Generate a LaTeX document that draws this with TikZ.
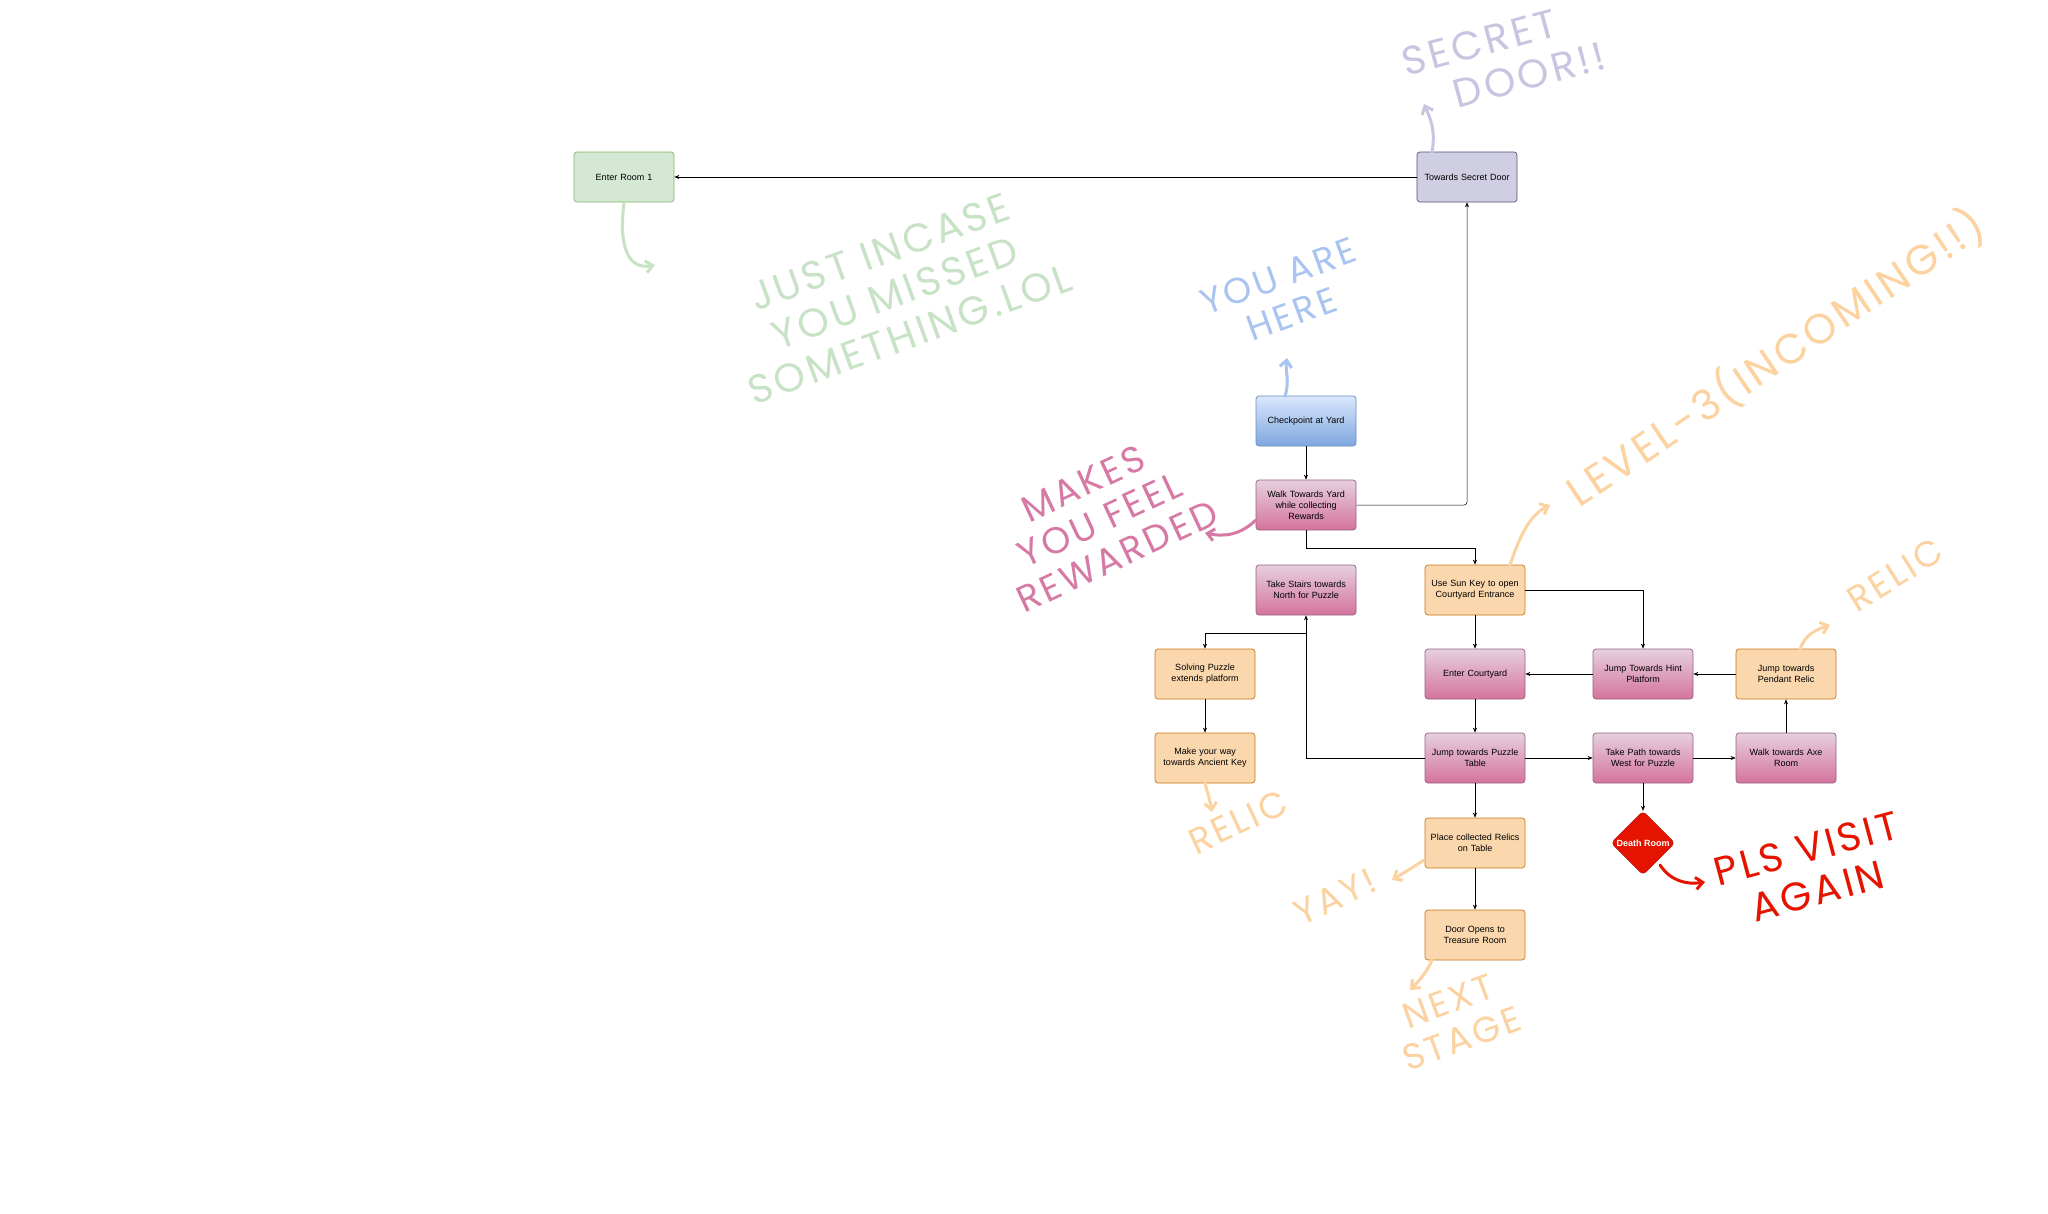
\documentclass[tikz,border=0pt]{standalone}
\usepackage{fontspec}
\setmainfont{Liberation Sans}
\newfontfamily\hand[LetterSpace=8]{Poppins}
\usetikzlibrary{shapes.geometric,arrows.meta}
\begin{document}
\begin{tikzpicture}[x=1pt,y=-1pt,
  box/.style={rounded corners=3pt,minimum width=100pt,minimum height=50pt,text width=100pt,align=center,inner xsep=0pt,font=\fontsize{9}{11}\selectfont,line width=0.7pt},
  gbox/.style={box,fill={rgb,255:red,213;green,232;blue,212},draw={rgb,255:red,130;green,179;blue,102}},
  pbox/.style={box,fill={rgb,255:red,208;green,206;blue,226},draw={rgb,255:red,86;green,81;blue,126}},
  bbox/.style={box,top color={rgb,255:red,218;green,232;blue,252},bottom color={rgb,255:red,126;green,166;blue,224},draw={rgb,255:red,108;green,142;blue,191}},
  kbox/.style={box,top color={rgb,255:red,230;green,208;blue,222},bottom color={rgb,255:red,213;green,115;blue,157},draw={rgb,255:red,150;green,97;blue,133}},
  obox/.style={box,fill={rgb,255:red,250;green,215;blue,172},draw={rgb,255:red,200;green,120;blue,30}},
  arr/.style={-{Stealth[length=5pt,width=4pt]},line width=0.5pt},
  note/.style={font=\hand\fontsize{36}{40}\selectfont,align=center},
  narr/.style={line width=3pt,line cap=round,-{Straight Barb[length=7pt,width=12pt]}}]
\useasboundingbox (0,0) rectangle (2048,1213);
\fill[white] (0,0) rectangle (2048,1213);
\definecolor{cG}{RGB}{200,226,198}
\definecolor{cP}{RGB}{200,197,224}
\definecolor{cB}{RGB}{169,196,240}
\definecolor{cK}{RGB}{214,122,165}
\definecolor{cO}{RGB}{251,210,160}
\definecolor{cR}{RGB}{229,20,0}

\node[gbox] (room) at (624,177) {Enter Room 1};
\node[pbox] (secret) at (1467,177) {Towards Secret Door};
\node[bbox] (check) at (1306,421) {Checkpoint at Yard};
\node[kbox] (walk) at (1306,505) {Walk Towards Yard\\while collecting\\Rewards};
\node[kbox] (stairs) at (1306,590) {Take Stairs towards\\North for Puzzle};
\node[obox] (sun) at (1475,590) {Use Sun Key to open\\Courtyard Entrance};
\node[obox] (solve) at (1205,674) {Solving Puzzle\\extends platform};
\node[kbox] (court) at (1475,674) {Enter Courtyard};
\node[kbox] (hint) at (1643,674) {Jump Towards Hint\\Platform};
\node[obox] (pend) at (1786,674) {Jump towards\\Pendant Relic};
\node[obox] (make) at (1205,758) {Make your way\\towards Ancient Key};
\node[kbox] (jump) at (1475,758) {Jump towards Puzzle\\Table};
\node[kbox] (path) at (1643,758) {Take Path towards\\West for Puzzle};
\node[kbox] (axe) at (1786,758) {Walk towards Axe\\Room};
\node[obox] (place) at (1475,843) {Place collected Relics\\on Table};
\node[obox] (door) at (1475,935) {Door Opens to\\Treasure Room};
\node[diamond,fill=cR,draw={rgb,255:red,178;green,0;blue,0},rounded corners=4pt,minimum width=64pt,minimum height=64pt,inner sep=0pt,text=white,font=\bfseries\fontsize{9}{10}\selectfont] (death) at (1643,843) {Death Room};

\draw[arr] (secret) -- (room);
\draw[arr,rounded corners=3pt] (walk.east) -| (secret.south);
\draw[arr] (check) -- (walk);
\draw[arr] (walk.south) |- (1475,548) -- (sun.north);
\draw[arr] (sun.east) -| (hint.north);
\draw[arr] (sun) -- (court);
\draw[arr] (hint) -- (court);
\draw[arr] (pend) -- (hint);
\draw[arr] (axe) -- (pend);
\draw[arr] (court) -- (jump);
\draw[arr] (jump) -- (path);
\draw[arr] (path) -- (axe);
\draw[arr] (path) -- (death);
\draw[arr] (jump) -- (place);
\draw[arr] (place) -- (door);
\draw[arr] (solve) -- (make);
\draw[arr] (jump.west) -| (stairs.south);
\coordinate (br) at (1306,633);
\draw[arr] (br) -| (solve.north);

% annotations
\draw[narr,cP] (1432,152) .. controls (1436,130) and (1430,118) .. (1424,104);
\node[note,cP,rotate=15,font=\hand\fontsize{40}{44}\selectfont] (n1) at (1485,64) {SECRET\\\qquad DOOR!!};
\draw[narr,cG] (624,203) .. controls (618,250) and (630,270) .. (655,265);
\node[note,cG,rotate=20,font=\hand\fontsize{40}{44}\selectfont] (n2) at (895,293) {JUST INCASE\\YOU MISSED\\SOMETHING.LOL};
\draw[narr,cB] (1285,396) .. controls (1290,380) and (1285,372) .. (1287,358);
\node[note,cB,rotate=20] (n3) at (1285,295) {YOU ARE\\HERE};
\draw[narr,cK] (1256,520) .. controls (1240,535) and (1225,537) .. (1205,533);
\node[note,cK,rotate=25,font=\hand\fontsize{37}{40}\selectfont] (n4) at (1100,520) {MAKES\\YOU FEEL\\REWARDED};
\draw[narr,cO] (1510,565) .. controls (1520,535) and (1530,515) .. (1550,505);
\node[note,cO,rotate=34,font=\hand\fontsize{42}{46}\selectfont] (n5) at (1775,358) {LEVEL-3(INCOMING!!)};
\draw[narr,cO] (1800,649) .. controls (1805,635) and (1815,630) .. (1830,625);
\node[note,cO,rotate=32] (n6) at (1895,575) {RELIC};
\draw[narr,cO] (1205,783) .. controls (1208,795) and (1210,800) .. (1212,812);
\node[note,cO,rotate=25] (n7) at (1238,822) {RELIC};
\draw[narr,cO] (1424,860) .. controls (1412,868) and (1405,872) .. (1392,880);
\node[note,cO,rotate=25] (n8) at (1335,897) {YAY!};
\draw[narr,cO] (1432,960) .. controls (1428,970) and (1420,980) .. (1410,990);
\node[note,cO,rotate=20] (n9) at (1455,1020) {NEXT\\STAGE};
\draw[narr,cR] (1660,865) .. controls (1670,880) and (1685,885) .. (1705,882);
\node[note,cR,rotate=15,font=\hand\fontsize{40}{44}\selectfont] (n10) at (1812,870) {PLS VISIT\\AGAIN};
\end{tikzpicture}
\end{document}
